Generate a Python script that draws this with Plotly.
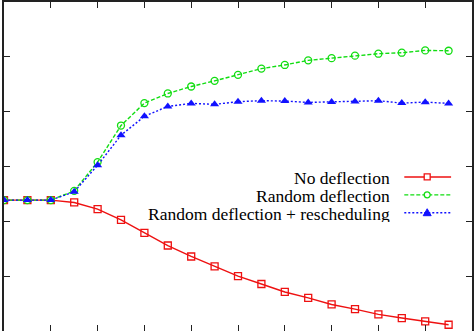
import plotly.graph_objects as go

# ---- data ----
x_idx = list(range(20))
no_deflection = [2.387, 2.387, 2.387, 2.344, 2.224, 2.025, 1.789, 1.559, 1.359, 1.178,
                 1.002, 0.857, 0.712, 0.604, 0.484, 0.399, 0.303, 0.236, 0.176, 0.114]
random_deflection = [2.387, 2.387, 2.387, 2.556, 3.081, 3.747, 4.156, 4.332, 4.459, 4.562,
                     4.671, 4.785, 4.852, 4.936, 4.976, 5.021, 5.057, 5.075, 5.117, 5.111]
random_resched = [2.387, 2.387, 2.387, 2.538, 3.022, 3.571, 3.915, 4.096, 4.151, 4.133,
                  4.182, 4.200, 4.193, 4.169, 4.178, 4.187, 4.200, 4.156, 4.174, 4.151]
series_names = ["No deflection", "Random deflection", "Random deflection + rescheduling"]

W, H = 474, 331
L = 4
RED, GREEN, BLUE = "#ee1111", "#11dd11", "#1111ff"

fig = go.Figure()
fig.add_trace(go.Scatter(x=x_idx, y=no_deflection, mode="lines+markers", name=series_names[0],
                         line=dict(color=RED, width=1.4),
                         marker=dict(symbol="square-open", size=7, color=RED, line=dict(width=1.3, color=RED))))
fig.add_trace(go.Scatter(x=x_idx, y=random_deflection, mode="lines+markers", name=series_names[1],
                         line=dict(color=GREEN, width=1.4, dash="4px,2px"),
                         marker=dict(symbol="circle-open", size=7, color=GREEN, line=dict(width=1.3, color=GREEN))))
fig.add_trace(go.Scatter(x=x_idx, y=random_resched, mode="lines+markers", name=series_names[2],
                         line=dict(color=BLUE, width=1.4, dash="2px,2px"),
                         marker=dict(symbol="triangle-up", size=8, color=BLUE)))

def px(xp):
    return (xp - L) / (W - L)

def py(yp):
    return 1 - yp / H

# manual gnuplot-style legend (text right, sample on the right)
rows = [176, 194, 212]
colors = [RED, GREEN, BLUE]
dashes = ["solid", "4px,2px", "2px,2px"]
for name, yr, c, d in zip(series_names, rows, colors, dashes):
    fig.add_annotation(x=px(394), y=py(yr + 1), xref="paper", yref="paper", text=name,
                       showarrow=False, xanchor="right", yanchor="middle", height=17, valign="middle",
                       font=dict(family="Liberation Serif", size=17.5, color="black"))
    fig.add_shape(type="line", xref="paper", yref="paper", x0=px(406), x1=px(453), y0=py(yr), y1=py(yr),
                  line=dict(color=c, width=1.4, dash=d))
# sample markers
fig.add_shape(type="rect", xref="paper", yref="paper", x0=px(426), x1=px(432), y0=py(rows[0] + 3), y1=py(rows[0] - 3),
              line=dict(color=RED, width=1.3), fillcolor="white")
fig.add_shape(type="circle", xref="paper", yref="paper", x0=px(426), x1=px(432), y0=py(rows[1] + 3), y1=py(rows[1] - 3),
              line=dict(color=GREEN, width=1.3), fillcolor="white")
fig.add_shape(type="path", xref="paper", yref="paper",
              path=f"M {px(425)} {py(rows[2] + 3)} L {px(433)} {py(rows[2] + 3)} L {px(429)} {py(rows[2] - 4)} Z",
              line=dict(color=BLUE, width=1), fillcolor=BLUE)

axis_common = dict(showgrid=False, zeroline=False, showticklabels=False, ticks="inside", ticklen=6,
                   tickwidth=1, tickcolor="#222", showline=True, linecolor="#222", linewidth=2, mirror="ticks")
fig.update_xaxes(range=[0, 20], dtick=2, tick0=0, **axis_common)
fig.update_yaxes(range=[0, 6], dtick=1, tick0=0, **axis_common)
fig.update_layout(width=W, height=H, margin=dict(l=L, r=0, t=0, b=0),
                  plot_bgcolor="white", paper_bgcolor="white", showlegend=False)

fig.write_html("out.html")
